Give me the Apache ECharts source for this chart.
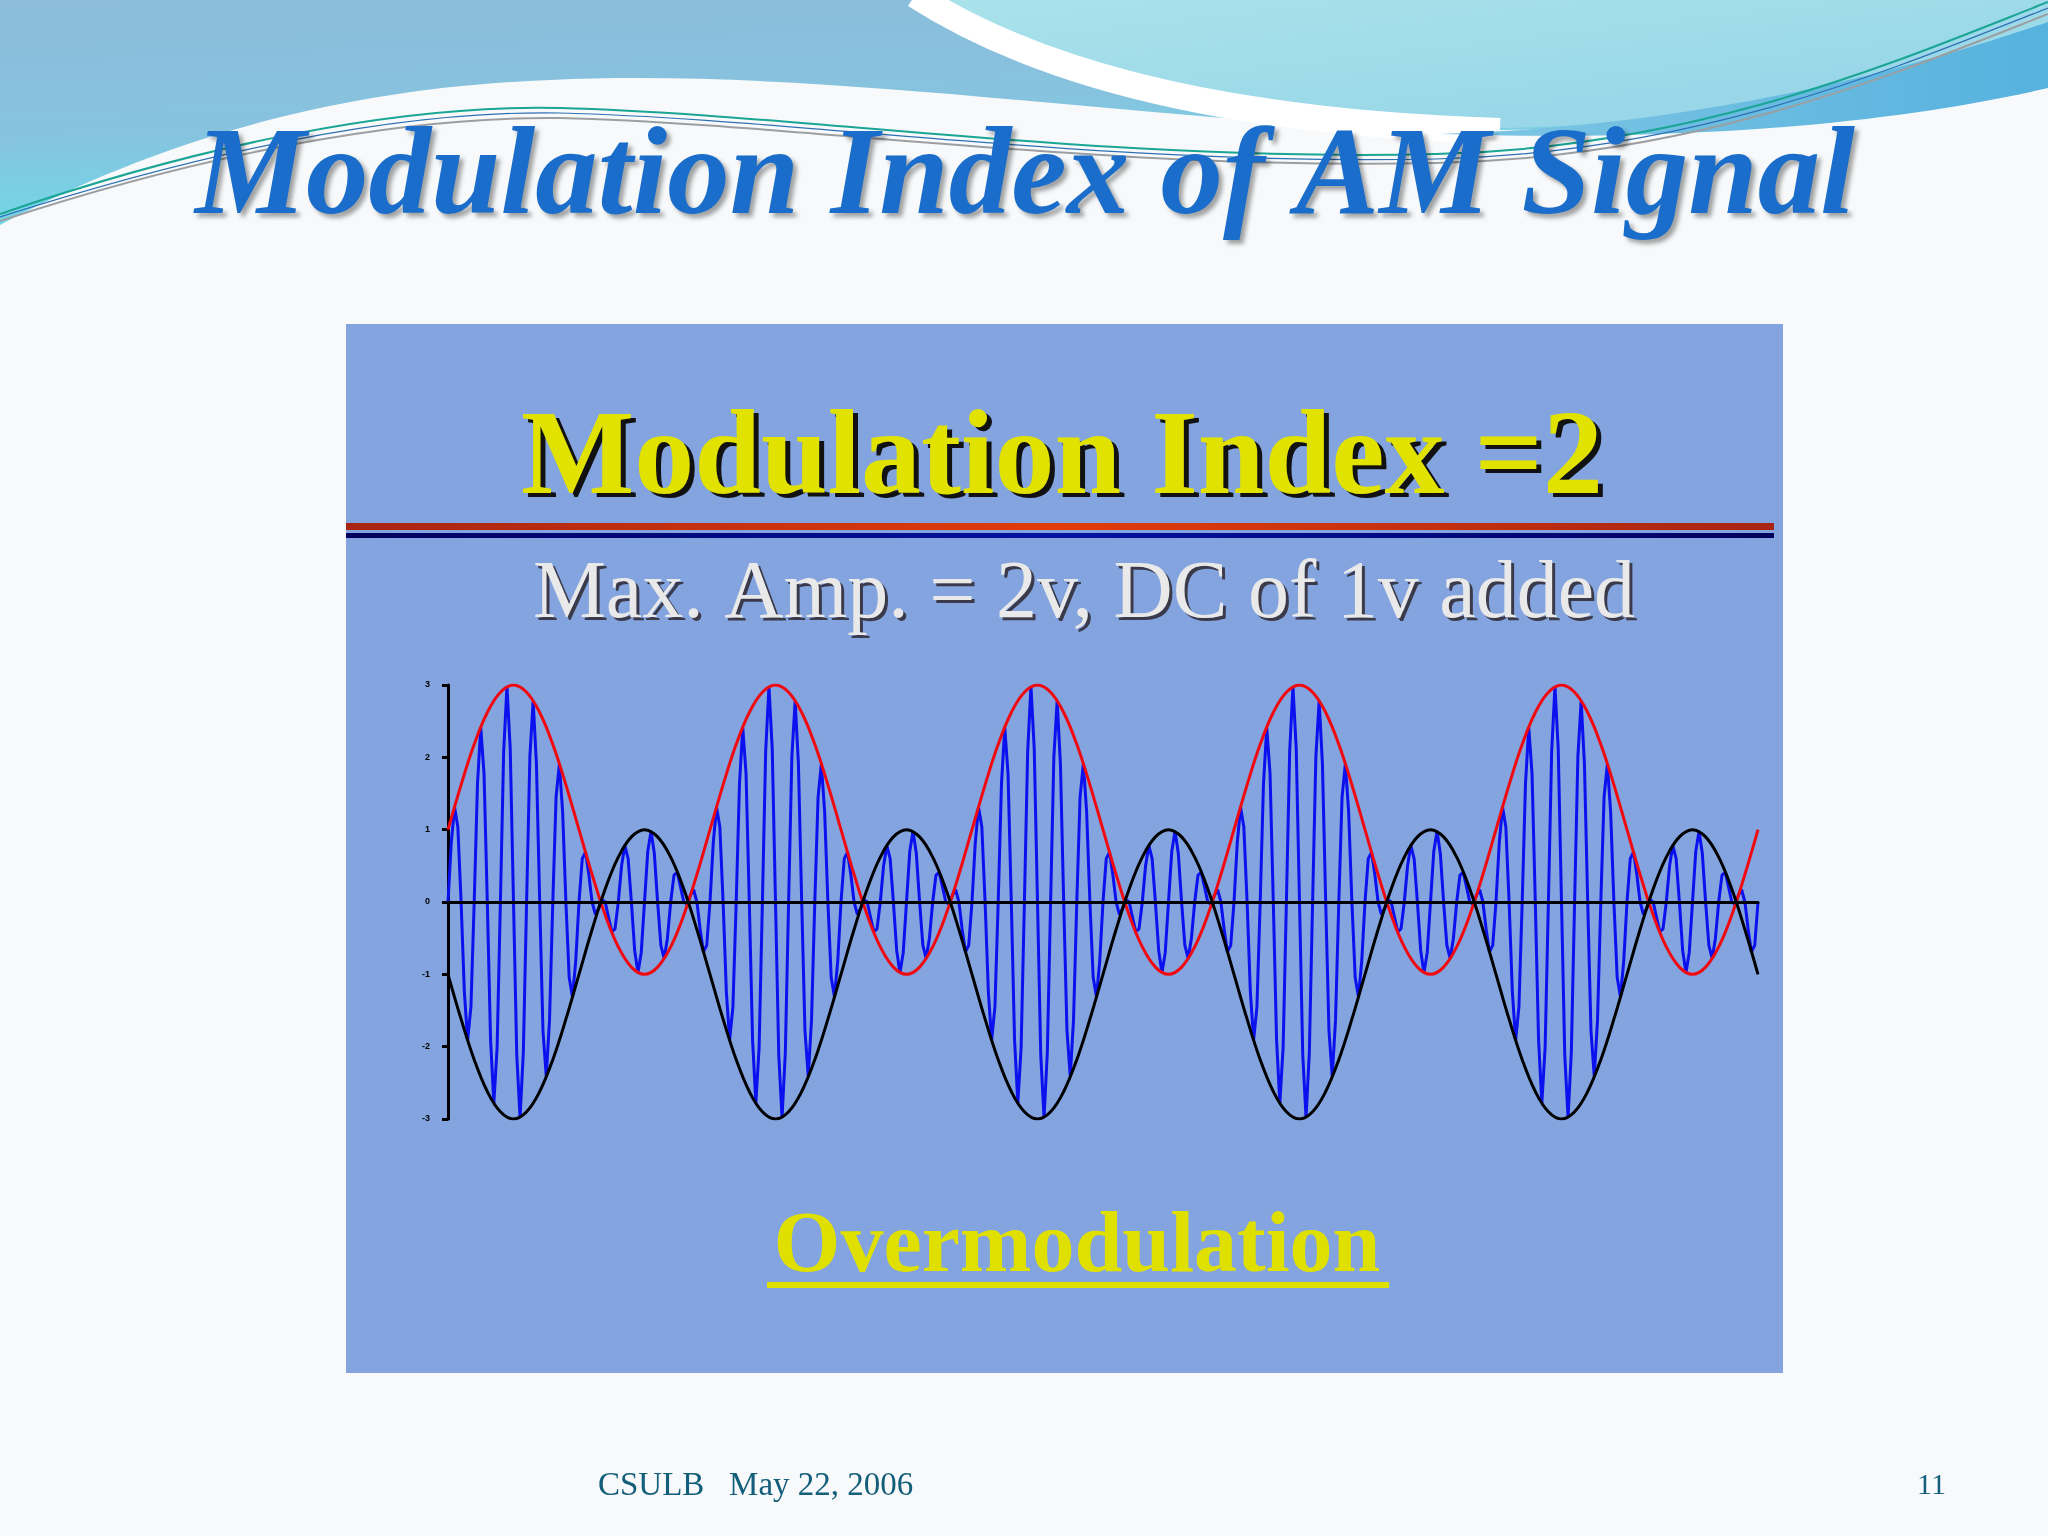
<!DOCTYPE html>
<html><head><meta charset="utf-8">
<script src="https://cdn.jsdelivr.net/npm/echarts/dist/echarts.min.js"></script>
<style>html,body{margin:0;padding:0;background:#f7f9fa;}
#wrap{position:relative;width:2048px;height:1536px;overflow:hidden;}
#deco{position:absolute;left:0;top:0;}
#c{position:absolute;left:0;top:0;width:2048px;height:1536px;}</style>
</head><body><div id="wrap">
<svg id="deco" width="2048" height="1536" viewBox="0 0 2048 1536">
  <defs>
    <linearGradient id="sky" x1="0" y1="0" x2="0.35" y2="1">
      <stop offset="0" stop-color="#8CBCDA"/><stop offset="0.55" stop-color="#86C3DF"/><stop offset="1" stop-color="#6CDDEA"/>
    </linearGradient>
    <linearGradient id="tr" x1="0" y1="0" x2="1" y2="1">
      <stop offset="0" stop-color="#A9E2EA"/><stop offset="1" stop-color="#93D3E8"/>
    </linearGradient>
    <linearGradient id="sw" x1="0" y1="0" x2="1" y2="0">
      <stop offset="0" stop-color="#7FC6E4"/><stop offset="1" stop-color="#56B2DE"/>
    </linearGradient>
  </defs>
  <path d="M0,0 L2048,0 L2048,40 C1880,95 1700,128 1500,130 C1200,132 850,66 550,80 C330,88 150,145 0,225 Z" fill="url(#sky)"/>
  <path d="M930,0 C1080,80 1280,118 1500,128 C1700,126 1880,85 2048,30 L2048,0 Z" fill="url(#tr)"/>
  <path d="M915,-5 C1060,88 1270,124 1500,131" fill="none" stroke="#ffffff" stroke-width="26"/>
  <path d="M1440,134 C1700,126 1900,72 2048,22 L2048,88 C1900,122 1700,142 1440,134 Z" fill="url(#sw)"/>
  <path d="M0,214 C200,145 400,104 560,108 C800,114 1100,162 1436,154 C1700,148 1900,60 2048,2" fill="none" stroke="#1AA594" stroke-width="2"/>
  <path d="M0,221 C200,155 400,116 560,118 C800,124 1100,170 1436,163 C1700,158 1900,72 2048,14" fill="none" stroke="#9C9FA2" stroke-width="2"/>
  <path d="M0,217 C210,150 400,110 560,113 C800,119 1100,166 1436,159 C1700,153 1900,66 2048,8" fill="none" stroke="#2E70B4" stroke-width="1.2"/>
</svg>
<div id="c"></div>
</div>
<script>
// AM signal with modulation index 2: samples (8 samples per carrier cycle, 10 carrier cycles per modulation cycle, 5 modulation cycles)
const blueSignal = [
0,0.82,1.31,1.04,0,-1.25,-1.91,-1.45,0,1.63,2.41,1.78,0,-1.91,-2.78,-2.01,0,2.08,2.98,2.12,0,-2.12,-2.98,-2.08,0,2.01,2.78,1.91,0,-1.78,-2.41,-1.63,0,1.45,1.91,1.25,0,-1.04,-1.31,-0.82,0,0.6,0.69,0.38,0,-0.17,-0.09,0.03,0,-0.21,-0.41,-0.37,0,0.5,0.78,0.6,0,-0.67,-0.98,-0.7,0,0.7,0.98,0.67,0,-0.6,-0.78,-0.5,0,0.37,0.41,0.21,0,-0.03,0.09,0.17,0,-0.38,-0.69,-0.6,
0,0.82,1.31,1.04,0,-1.25,-1.91,-1.45,0,1.63,2.41,1.78,0,-1.91,-2.78,-2.01,0,2.08,2.98,2.12,0,-2.12,-2.98,-2.08,0,2.01,2.78,1.91,0,-1.78,-2.41,-1.63,0,1.45,1.91,1.25,0,-1.04,-1.31,-0.82,0,0.6,0.69,0.38,0,-0.17,-0.09,0.03,0,-0.21,-0.41,-0.37,0,0.5,0.78,0.6,0,-0.67,-0.98,-0.7,0,0.7,0.98,0.67,0,-0.6,-0.78,-0.5,0,0.37,0.41,0.21,0,-0.03,0.09,0.17,0,-0.38,-0.69,-0.6,
0,0.82,1.31,1.04,0,-1.25,-1.91,-1.45,0,1.63,2.41,1.78,0,-1.91,-2.78,-2.01,0,2.08,2.98,2.12,0,-2.12,-2.98,-2.08,0,2.01,2.78,1.91,0,-1.78,-2.41,-1.63,0,1.45,1.91,1.25,0,-1.04,-1.31,-0.82,0,0.6,0.69,0.38,0,-0.17,-0.09,0.03,0,-0.21,-0.41,-0.37,0,0.5,0.78,0.6,0,-0.67,-0.98,-0.7,0,0.7,0.98,0.67,0,-0.6,-0.78,-0.5,0,0.37,0.41,0.21,0,-0.03,0.09,0.17,0,-0.38,-0.69,-0.6,
0,0.82,1.31,1.04,0,-1.25,-1.91,-1.45,0,1.63,2.41,1.78,0,-1.91,-2.78,-2.01,0,2.08,2.98,2.12,0,-2.12,-2.98,-2.08,0,2.01,2.78,1.91,0,-1.78,-2.41,-1.63,0,1.45,1.91,1.25,0,-1.04,-1.31,-0.82,0,0.6,0.69,0.38,0,-0.17,-0.09,0.03,0,-0.21,-0.41,-0.37,0,0.5,0.78,0.6,0,-0.67,-0.98,-0.7,0,0.7,0.98,0.67,0,-0.6,-0.78,-0.5,0,0.37,0.41,0.21,0,-0.03,0.09,0.17,0,-0.38,-0.69,-0.6,
0,0.82,1.31,1.04,0,-1.25,-1.91,-1.45,0,1.63,2.41,1.78,0,-1.91,-2.78,-2.01,0,2.08,2.98,2.12,0,-2.12,-2.98,-2.08,0,2.01,2.78,1.91,0,-1.78,-2.41,-1.63,0,1.45,1.91,1.25,0,-1.04,-1.31,-0.82,0,0.6,0.69,0.38,0,-0.17,-0.09,0.03,0,-0.21,-0.41,-0.37,0,0.5,0.78,0.6,0,-0.67,-0.98,-0.7,0,0.7,0.98,0.67,0,-0.6,-0.78,-0.5,0,0.37,0.41,0.21,0,-0.03,0.09,0.17,0,-0.38,-0.69,-0.6,
0];

// Envelope 1 + 2·m(t) (red) and its mirror (black), one value every 4 signal samples
const redEnvelope = [
1,1.62,2.18,2.62,2.9,3,2.9,2.62,2.18,1.62,1,0.38,-0.18,-0.62,-0.9,-1,-0.9,-0.62,-0.18,0.38,
1,1.62,2.18,2.62,2.9,3,2.9,2.62,2.18,1.62,1,0.38,-0.18,-0.62,-0.9,-1,-0.9,-0.62,-0.18,0.38,
1,1.62,2.18,2.62,2.9,3,2.9,2.62,2.18,1.62,1,0.38,-0.18,-0.62,-0.9,-1,-0.9,-0.62,-0.18,0.38,
1,1.62,2.18,2.62,2.9,3,2.9,2.62,2.18,1.62,1,0.38,-0.18,-0.62,-0.9,-1,-0.9,-0.62,-0.18,0.38,
1,1.62,2.18,2.62,2.9,3,2.9,2.62,2.18,1.62,1,0.38,-0.18,-0.62,-0.9,-1,-0.9,-0.62,-0.18,0.38,
1];
const blackEnvelope = [
-1,-1.62,-2.18,-2.62,-2.9,-3,-2.9,-2.62,-2.18,-1.62,-1,-0.38,0.18,0.62,0.9,1,0.9,0.62,0.18,-0.38,
-1,-1.62,-2.18,-2.62,-2.9,-3,-2.9,-2.62,-2.18,-1.62,-1,-0.38,0.18,0.62,0.9,1,0.9,0.62,0.18,-0.38,
-1,-1.62,-2.18,-2.62,-2.9,-3,-2.9,-2.62,-2.18,-1.62,-1,-0.38,0.18,0.62,0.9,1,0.9,0.62,0.18,-0.38,
-1,-1.62,-2.18,-2.62,-2.9,-3,-2.9,-2.62,-2.18,-1.62,-1,-0.38,0.18,0.62,0.9,1,0.9,0.62,0.18,-0.38,
-1,-1.62,-2.18,-2.62,-2.9,-3,-2.9,-2.62,-2.18,-1.62,-1,-0.38,0.18,0.62,0.9,1,0.9,0.62,0.18,-0.38,
-1];
const envelopeStep = 4;
const yTickValues = [-3, -2, -1, 0, 1, 2, 3];
const yTickLabels = ['-3', '-2', '-1', '0', '1', '2', '3'];

const slideTitle = 'Modulation Index of AM Signal';
const panelTitle = 'Modulation Index =2';
const panelSubtitle = 'Max. Amp. = 2v, DC of 1v added';
const panelCaption = 'Overmodulation';
const footerLeft = 'CSULB   May 22, 2006';
const footerRight = '11';

const chart = echarts.init(document.getElementById('c'), null, {renderer: 'canvas'});

const serif = "'Liberation Serif', 'DejaVu Serif', serif";

function lin(x, y, x2, y2, stops) {
  return { type: 'linear', x: x, y: y, x2: x2, y2: y2, global: false,
    colorStops: stops.map(s => ({ offset: s[0], color: s[1] })) };
}

function txt(text, x, y, font, fill, align, shadow, z) {
  const style = {
    text: text, font: font, fill: fill,
    textAlign: align || 'center', align: align || 'center',
    textVerticalAlign: 'middle', verticalAlign: 'middle'
  };
  if (shadow) {
    style.textShadowColor = shadow[0];
    style.textShadowOffsetX = shadow[1];
    style.textShadowOffsetY = shadow[2];
    style.textShadowBlur = shadow[3];
  }
  return { type: 'text', x: x, y: y, z: z || 50, style: style };
}

const graphics = [
  txt(slideTitle, 1025, 181, "bold italic 125px " + serif, '#1A6DCA', 'center', ['rgba(0,0,0,0.35)', 4, 4, 4]),
  { type: 'rect', z: -10, shape: { x: 346, y: 324, width: 1437, height: 1049 }, style: { fill: '#83A4DF' } },
  // hard drop shadows drawn as offset copies
  txt(panelTitle, 1067, 466, "bold 120px " + serif, '#111111', 'center', null, 40),
  txt(panelTitle, 1062, 462, "bold 120px " + serif, '#E2E200', 'center', null, 50),
  { type: 'rect', z: -5, shape: { x: 346, y: 523, width: 1428, height: 7 },
    style: { fill: lin(0, 0, 1, 0, [[0, '#A82412'], [0.5, '#E23C0C'], [1, '#A82412']]) } },
  { type: 'rect', z: -5, shape: { x: 346, y: 533, width: 1428, height: 5 },
    style: { fill: lin(0, 0, 1, 0, [[0, '#00005E'], [0.5, '#0612A0'], [1, '#00005E']]) } },
  txt(panelSubtitle, 1087, 598, "82px " + serif, '#3A3A4A', 'center', null, 40),
  txt(panelSubtitle, 1084, 595, "82px " + serif, '#E9E9E9', 'center', null, 50),
  txt(panelCaption, 1077, 1249, "bold 86px " + serif, '#E0E000', 'center'),
  { type: 'rect', z: -5, shape: { x: 767, y: 1282, width: 622, height: 6 }, style: { fill: '#E0E000' } },
  txt(footerLeft, 598, 1486, "33px " + serif, '#135E7A', 'left'),
  txt(footerRight, 1946, 1486, "30px " + serif, '#135E7A', 'right')
];

const option = {
  animation: false,
  backgroundColor: 'transparent',
  graphic: graphics,
  grid: { left: 448, top: 685, width: 1310, height: 434, containLabel: false },
  xAxis: {
    type: 'value', min: 0, max: blueSignal.length - 1, z: 6,
    axisLine: { show: true, onZero: true, lineStyle: { color: '#000', width: 3 } },
    axisTick: { show: false }, axisLabel: { show: false }, splitLine: { show: false }
  },
  yAxis: {
    type: 'value', min: -3, max: 3, interval: 1,
    axisLine: { show: true, lineStyle: { color: '#000', width: 3 } },
    axisTick: { show: true, length: 6, lineStyle: { color: '#000', width: 3 } },
    axisLabel: { show: true, margin: 18, fontSize: 9, fontWeight: 'bold', color: '#000',
      formatter: function (v) { const i = yTickValues.indexOf(v); return i >= 0 ? yTickLabels[i] : ''; } },
    splitLine: { show: false }
  },
  series: [
    { type: 'line', name: 'AM signal', data: blueSignal.map((v, i) => [i, v]), showSymbol: false,
      lineStyle: { color: '#0A10EE', width: 3 }, z: 2 },
    { type: 'line', name: 'envelope', data: redEnvelope.map((v, i) => [i * envelopeStep, v]), showSymbol: false, smooth: 0.4,
      lineStyle: { color: '#F00A10', width: 3 }, z: 3 },
    { type: 'line', name: 'mirror envelope', data: blackEnvelope.map((v, i) => [i * envelopeStep, v]), showSymbol: false, smooth: 0.4,
      lineStyle: { color: '#000000', width: 3 }, z: 3 }
  ]
};
chart.setOption(option);
</script>
</body></html>
